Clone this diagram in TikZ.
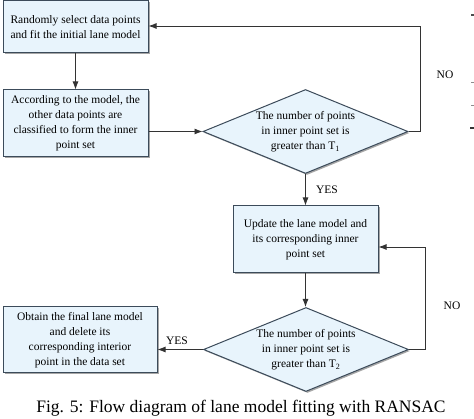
\documentclass[tikz,border=0pt]{standalone}
\usepackage{fontspec}
\setmainfont{Liberation Serif}
\usetikzlibrary{shapes.geometric,shadows,arrows.meta}
\definecolor{boxfill}{HTML}{E8F4FC}
\definecolor{boxline}{HTML}{3C4B5A}
\definecolor{arrowcol}{HTML}{333333}
\begin{document}
\begin{tikzpicture}[x=1pt,y=-1pt,
  txt/.style={font=\fontsize{11.5}{15}\selectfont},
  procbox/.style={txt, draw=boxline, line width=1pt, fill=boxfill, rectangle, align=center, inner sep=0pt,
    drop shadow={shadow xshift=1.5pt,shadow yshift=-1.5pt,fill=black,opacity=0.35}},
  decbox/.style={txt, draw=boxline, line width=1pt, fill=boxfill, diamond, aspect=2.46, align=center, inner sep=0pt,
    minimum width=205pt, minimum height=84pt,
    drop shadow={shadow xshift=1.5pt,shadow yshift=-1.5pt,fill=black,opacity=0.35}},
  arr/.style={draw=arrowcol, line width=0.9pt, -{Latex[length=8pt,width=6pt]}},
  lbl/.style={txt}
]
\useasboundingbox (0,0) rectangle (474,419);

\node[procbox, minimum width=145pt, minimum height=52pt] (b1) at (75.5,27)
  {Randomly select data points\\and fit the initial lane model};
\node[procbox, minimum width=145pt, minimum height=67pt] (b2) at (75.5,123.5)
  {According to the model, the\\other data points are\\classified to form the inner\\point set};
\node[decbox] (d1) at (305.5,131.5)
  {The number of points\\in inner point set is\\greater than T\textsubscript{1}};
\node[procbox, minimum width=145pt, minimum height=67pt] (b3) at (305.5,239.5)
  {Update the lane model and\\its corresponding inner\\point set};
\node[decbox] (d2) at (306,349.5)
  {The number of points\\in inner point set is\\greater than T\textsubscript{2}};
\node[procbox, minimum width=154pt, minimum height=66pt] (b4) at (80,340)
  {Obtain the final lane model\\and delete its\\corresponding interior\\point in the data set};

\coordinate (n1) at (420,26);
\coordinate (n2) at (425,247);

\draw[arr] (b1.south) -- (b2.north);
\draw[arr] (b2.east |- d1.west) -- (d1.west);
\draw[arr] (d1.east) -| (n1) -- (b1.east |- n1);
\draw[arr] (d1.south) -- (b3.north);
\draw[arr] (b3.south) -- (b3.south |- d2.north);
\draw[arr] (d2.east) -| (n2) -- (b3.east |- n2);
\draw[arr] (d2.west) -- (b4.east |- d2.west);

\node[lbl] (no1) at (445,75) {NO};
\node[lbl] (yes1) at (327,190) {YES};
\node[lbl] (no2) at (452,306) {NO};
\node[lbl] (yes2) at (177,341) {YES};

\node[font=\fontsize{17.5}{20}\selectfont] (cap) at (241,408)
  {Fig. 5: Flow diagram of lane model fitting with RANSAC};

\fill[black!70] (471,14) rectangle (474,16.5);
\draw[black!45, line width=0.6pt] (471,82) -- (474,82);
\draw[black!45, line width=0.6pt] (471,105) -- (474,105);
\draw[black!80, line width=1.6pt] (470,128) -- (474,128);
\end{tikzpicture}
\end{document}
